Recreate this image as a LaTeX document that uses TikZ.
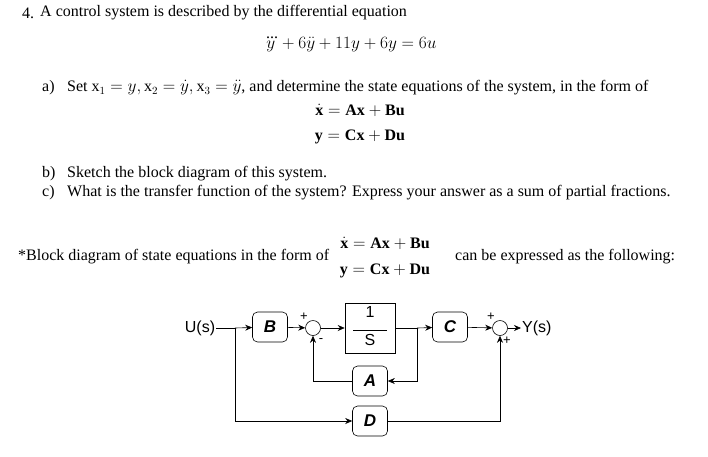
\documentclass[tikz,border=0pt]{standalone}
\usepackage{amsmath}
\usepackage{fontspec}
\setmainfont{Liberation Serif}
\newfontfamily\arialf{Liberation Sans}
\usetikzlibrary{arrows.meta}
\begin{document}
\begin{tikzpicture}[x=1pt,y=-1pt,
  txt/.style={anchor=west,inner sep=0pt,font=\fontsize{16}{18}\selectfont},
  eq/.style={inner sep=0pt,font=\fontsize{16}{18}\selectfont},
  blk/.style={draw,rounded corners=5pt,minimum width=35pt,minimum height=30pt,font=\arialf\bfseries\itshape\fontsize{17}{19}\selectfont,line width=0.6pt},
  sumc/.style={draw,circle,minimum size=15pt,inner sep=0pt,line width=0.6pt},
  sg/.style={font=\arialf\fontsize{13}{13}\selectfont,inner sep=0pt},
  ar/.style={-{Stealth[length=7pt,width=6pt]},line width=0.6pt},
  ln/.style={line width=0.6pt}]
\useasboundingbox (0,0) rectangle (708,456);
\node[txt] (n4) at (22,13) {4.};
\node[txt] (t1) at (40,13) {A control system is described by the differential equation};
\node[eq] (e1) at (350,45) {$\dddot{y}+6\ddot{y}+11y+6y=6u$};
\node[txt] (ta) at (42,88) {a)};
\node[txt] (ta2) at (67,88) {Set $\mathrm{x}_1=y,\mathrm{x}_2=\dot{y},\mathrm{x}_3=\ddot{y}$, and determine the state equations of the system, in the form of};
\node[eq] (e2) at (360,110) {$\dot{\mathbf{x}}=\mathbf{Ax}+\mathbf{Bu}$};
\node[eq] (e3) at (360,137) {$\mathbf{y}=\mathbf{Cx}+\mathbf{Du}$};
\node[txt] (tb) at (42,174) {b)};
\node[txt] (tb2) at (67,174) {Sketch the block diagram of this system.};
\node[txt] (tc) at (42,193) {c)};
\node[txt] (tc2) at (67,193) {What is the transfer function of the system? Express your answer as a sum of partial fractions.};
\node[txt] (bd) at (18,257) {*Block diagram of state equations in the form of};
\node[eq] (e4) at (385,243) {$\dot{\mathbf{x}}=\mathbf{Ax}+\mathbf{Bu}$};
\node[eq] (e5) at (385,271) {$\mathbf{y}=\mathbf{Cx}+\mathbf{Du}$};
\node[txt] (ce) at (455,257) {can be expressed as the following:};
% diagram
\node[font=\arialf\fontsize{16}{18}\selectfont,inner sep=1pt] (U) at (200,328) {U(s)};
\coordinate (p1) at (235,328);
\node[blk] (B) at (270,327) {B};
\node[sumc] (s1) at (313,328) {};
\node[draw,line width=0.6pt,minimum width=50pt,minimum height=50pt,inner sep=0pt,font=\arialf\fontsize{16}{18}\selectfont] (I) at (370,328) {$\begin{array}{c}\text{1}\\[-5pt]\rule{34pt}{0.5pt}\\[-3pt]\text{S}\end{array}$};
\coordinate (p2) at (417,328);
\node[blk] (C) at (450,327) {C};
\node[sumc] (s2) at (500,328) {};
\node[font=\arialf\fontsize{16}{18}\selectfont,inner sep=1pt,anchor=west] (Y) at (521,328) {Y(s)};
\node[blk] (A) at (370,381) {A};
\node[blk] (D) at (370,421) {D};
\draw[ln] (U) -- (p1);
\draw[ar] (p1) -- (B);
\draw[ar] (B) -- (s1);
\draw[ar] (s1) -- (I);
\draw[ln] (I) -- (p2);
\draw[ar] (p2) -- (C);
\draw[ar] (C) -- (s2);
\draw[ar] (s2) -- (Y);
\draw[ar] (p2) |- (A);
\draw[ar] (A) -| (s1);
\draw[ar] (p1) |- (D);
\draw[ar] (D) -| (s2);
\node[sg] (pl1) at (304,317) {+};
\node[sg] (mi1) at (321,341) {-};
\node[sg] (pl2) at (491,317) {+};
\node[sg] (pl3) at (507,341) {+};
\end{tikzpicture}
\end{document}
